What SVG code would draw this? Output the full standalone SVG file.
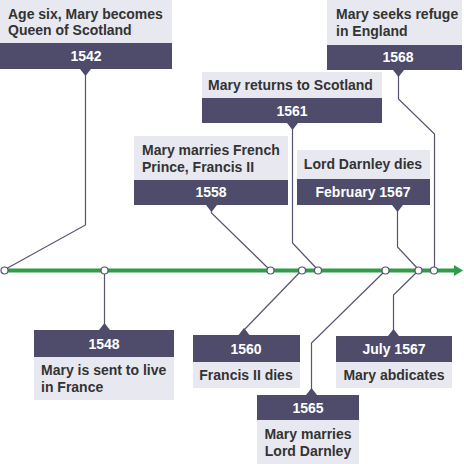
<svg xmlns="http://www.w3.org/2000/svg" width="464" height="464" viewBox="0 0 464 464">
<style>
.lt{fill:#e8e8f0}
.dk{fill:#4e4c6a}
.tx{font-family:"Liberation Sans",Arial,sans-serif;font-weight:bold;font-size:14px;fill:#333333}
.yr{font-family:"Liberation Sans",Arial,sans-serif;font-weight:bold;font-size:14px;fill:#ffffff;text-anchor:middle}
.c{text-anchor:middle}
.ln{fill:none;stroke:#56546f;stroke-width:1.2}
.dot{fill:#ffffff;stroke:#56546f;stroke-width:1.2}
</style>
<rect width="464" height="464" fill="#ffffff"/>
<g id="connectors">
<line x1="4" y1="270.5" x2="456" y2="270.5" stroke="#2e9c48" stroke-width="4"/>
<polygon points="454,265 463,270.5 454,276" fill="#2e9c48"/>
<polyline class="ln" points="85.5,70 85.5,225 4,270"/>
<polyline class="ln" points="104.5,270 104.5,330"/>
<polyline class="ln" points="211.5,205 211.5,213 270,270"/>
<polyline class="ln" points="302,270 244,330"/>
<polyline class="ln" points="292.5,124 292.5,243 318,270"/>
<polyline class="ln" points="386,270 311.5,343 311.5,395"/>
<polyline class="ln" points="397.5,205 397.5,247 419,270"/>
<polyline class="ln" points="419,270 393.5,295 393.5,336"/>
<polyline class="ln" points="398.5,70 398.5,99 434.5,134 434.5,270"/>
<circle class="dot" cx="4.5" cy="270.5" r="3.5"/>
<circle class="dot" cx="104.5" cy="270.5" r="3.5"/>
<circle class="dot" cx="270.5" cy="270.5" r="3.5"/>
<circle class="dot" cx="302" cy="270.5" r="3.5"/>
<circle class="dot" cx="318" cy="270.5" r="3.5"/>
<circle class="dot" cx="385.5" cy="270.5" r="3.5"/>
<circle class="dot" cx="418.5" cy="270.5" r="3.5"/>
<circle class="dot" cx="434" cy="270.5" r="3.5"/>
</g>
<g id="n1542">
<rect class="lt" x="0" y="0" width="172" height="43"/>
<rect class="dk" x="0" y="43" width="172" height="26"/>
<polygon class="dk" points="80,69 91,69 85.5,76"/>
<text class="tx" x="8" y="19">Age six, Mary becomes</text>
<text class="tx" x="8" y="35">Queen of Scotland</text>
<text class="yr" x="86" y="61">1542</text>
</g>
<g id="n1568">
<rect class="lt" x="327" y="0" width="135" height="45"/>
<rect class="dk" x="327" y="45" width="135" height="25"/>
<polygon class="dk" points="393,70 404,70 398.5,77"/>
<text class="tx" x="336" y="19">Mary seeks refuge</text>
<text class="tx" x="336" y="36">in England</text>
<text class="yr" x="398" y="62">1568</text>
</g>
<g id="n1561">
<rect class="lt" x="202" y="72" width="180" height="26"/>
<rect class="dk" x="202" y="98" width="180" height="25"/>
<polygon class="dk" points="287,123 298,123 292.5,130"/>
<text class="tx" x="208" y="90">Mary returns to Scotland</text>
<text class="yr" x="292" y="116">1561</text>
</g>
<g id="n1558">
<rect class="lt" x="134" y="136" width="154" height="44"/>
<rect class="dk" x="134" y="180" width="154" height="25"/>
<polygon class="dk" points="206,205 217,205 211.5,212"/>
<text class="tx" x="142" y="155">Mary marries French</text>
<text class="tx" x="142" y="172">Prince, Francis II</text>
<text class="yr" x="211" y="197">1558</text>
</g>
<g id="nFeb1567">
<rect class="lt" x="297" y="150" width="133" height="29"/>
<rect class="dk" x="297" y="179" width="133" height="26"/>
<polygon class="dk" points="392,205 403,205 397.5,212"/>
<text class="tx c" x="363" y="169">Lord Darnley dies</text>
<text class="yr" x="363" y="197">February 1567</text>
</g>
<g id="n1548">
<rect class="dk" x="34" y="330" width="140" height="27"/>
<rect class="lt" x="34" y="357" width="140" height="43"/>
<polygon class="dk" points="99,330 110,330 104.5,323"/>
<text class="yr" x="104" y="349">1548</text>
<text class="tx" x="41" y="375">Mary is sent to live</text>
<text class="tx" x="41" y="392">in France</text>
</g>
<g id="n1560">
<rect class="dk" x="193" y="335" width="107" height="27"/>
<rect class="lt" x="193" y="362" width="107" height="26"/>
<polygon class="dk" points="238.5,335 249.5,335 244,328"/>
<text class="yr" x="246" y="354">1560</text>
<text class="tx c" x="246" y="380">Francis II dies</text>
</g>
<g id="n1565">
<rect class="dk" x="257" y="395" width="102" height="25"/>
<rect class="lt" x="257" y="420" width="102" height="44"/>
<polygon class="dk" points="306,395 317,395 311.5,388"/>
<text class="yr" x="308" y="413">1565</text>
<text class="tx c" x="308" y="439">Mary marries</text>
<text class="tx c" x="308" y="456">Lord Darnley</text>
</g>
<g id="nJul1567">
<rect class="dk" x="336" y="336" width="116" height="26"/>
<rect class="lt" x="336" y="362" width="116" height="26"/>
<polygon class="dk" points="388,336 399,336 393.5,329"/>
<text class="yr" x="394" y="354">July 1567</text>
<text class="tx c" x="394" y="380">Mary abdicates</text>
</g>
</svg>
